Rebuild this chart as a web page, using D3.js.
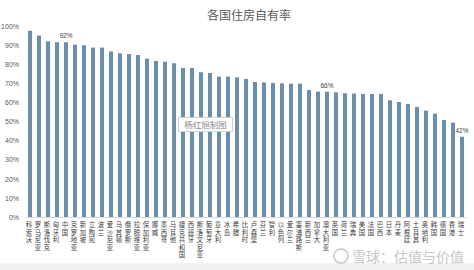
<!DOCTYPE html>
<html>
<head>
<meta charset="utf-8">
<script src="https://cdn.jsdelivr.net/npm/d3@7"></script>
<style>
  body { margin: 0; background: #fff; }
  svg { display: block; font-family: "Noto Sans CJK SC", "Noto Sans", sans-serif; }
</style>
</head>
<body>
<div id="viz"></div>
<script>
const countries = ["科索沃", "罗马尼亚", "斯洛伐克", "匈牙利", "中国", "克罗地亚", "新加坡", "立陶宛", "波兰", "爱沙尼亚",
  "马其顿", "俄罗斯", "拉脱维亚", "保加利亚", "挪威", "墨西哥", "马耳他", "捷克共和国", "西班牙", "斯洛文尼亚",
  "葡萄牙", "意大利", "冰岛", "希腊", "比利时", "卢森堡", "芬兰", "智利", "以色列", "爱尔兰",
  "塞浦路斯", "新西兰", "加拿大", "澳大利亚", "英国", "荷兰", "瑞典", "美国", "法国", "巴西",
  "日本", "丹麦", "阿根廷", "土耳其", "奥地利", "韩国", "德国", "香港", "瑞士"]
const rates = [97.5, 95, 92, 91.5, 91.5, 90.2, 89.9, 88.7, 88.7, 86.7,
  85.7, 85.3, 84.8, 82.9, 81.7, 81.3, 80.5, 78, 78, 75.8,
  75.4, 73.5, 73.5, 73.1, 72.3, 70.7, 70.5, 70.2, 70, 69.8,
  69.8, 66.5, 65.7, 65.6, 65.3, 64.8, 64.6, 64.4, 64.4, 64.4,
  61.1, 60.2, 59.2, 57.6, 55.7, 54.1, 50.8, 49.4, 42]
const labelled = { "中国": "92%", "澳大利亚": "66%", "瑞士": "42%" }
const yTicks = [0, 10, 20, 30, 40, 50, 60, 70, 80, 90, 100]

const W = 474, H = 270
const svg = d3.select("#viz").append("svg").attr("width", W).attr("height", H)

const x = d3.scaleBand().domain(countries).range([25.5, 466.5]).paddingInner(0.55).paddingOuter(0.275)
const y = d3.scaleLinear().domain([0, 100]).range([217, 26])

// bottom strip
svg.append("rect").attr("x", 0).attr("y", 263).attr("width", W).attr("height", 7).attr("fill", "#f1f1f1")

svg.append("text").text("各国住房自有率")
  .attr("x", 249).attr("y", 20).attr("text-anchor", "middle")
  .attr("font-size", 12).attr("fill", "#595959")

// y axis
const yAxis = svg.append("g").attr("transform", "translate(19,0)")
  .call(d3.axisLeft(y).tickValues(yTicks).tickFormat(d => d + "%").tickSize(0).tickPadding(0))
yAxis.select(".domain").remove()
yAxis.selectAll("text").attr("font-size", 7).attr("fill", "#595959").attr("font-family", "Liberation Sans, sans-serif")

svg.append("line").attr("x1", 25.5).attr("x2", 466.5).attr("y1", y(0) + 0.5).attr("y2", y(0) + 0.5)
  .attr("stroke", "#d9d9d9").attr("stroke-width", 1)

const data = countries.map((c, i) => ({ c, v: rates[i] }))

svg.append("g").selectAll("rect").data(data).join("rect")
  .attr("x", d => x(d.c))
  .attr("y", d => y(d.v))
  .attr("width", x.bandwidth())
  .attr("height", d => y(0) - y(d.v))
  .attr("fill", "#6b8fab")

svg.append("g").selectAll("text").data(data.filter(d => labelled[d.c])).join("text")
  .attr("x", d => x(d.c) + x.bandwidth() / 2)
  .attr("y", d => y(d.v) - 4)
  .attr("text-anchor", "middle")
  .attr("font-size", 6.5).attr("fill", "#404040")
  .attr("font-family", "Liberation Sans, sans-serif")
  .text(d => labelled[d.c])

// x labels: one character per line, stacked
const xl = svg.append("g")
data.forEach(d => {
  const cx = x(d.c) + x.bandwidth() / 2 - 1
  Array.from(d.c).forEach((ch, i) => {
    xl.append("text").attr("x", cx).attr("y", 227 + i * 7.6)
      .attr("text-anchor", "middle").attr("font-size", 6.4).attr("fill", "#404040")
      .text(ch)
  })
})

// watermark box
const wm = svg.append("g")
wm.append("rect").attr("x", 178.5).attr("y", 117.5).attr("width", 54).attr("height", 14)
  .attr("fill", "#fff").attr("stroke", "#c9d3dc")
wm.append("text").text("杨红旭制图").attr("x", 205.5).attr("y", 127.5).attr("text-anchor", "middle")
  .attr("font-size", 8.5).attr("fill", "#8a8a8a")

// site watermark
const sw = svg.append("g").attr("opacity", 0.55)
sw.append("circle").attr("cx", 341).attr("cy", 256).attr("r", 7).attr("fill", "none").attr("stroke", "#9a9a9a").attr("stroke-width", 1.5)
sw.append("text").text("雪球：估值与价值").attr("x", 352).attr("y", 262)
  .attr("font-size", 14).attr("fill", "#9a9a9a")
</script>
</body>
</html>
